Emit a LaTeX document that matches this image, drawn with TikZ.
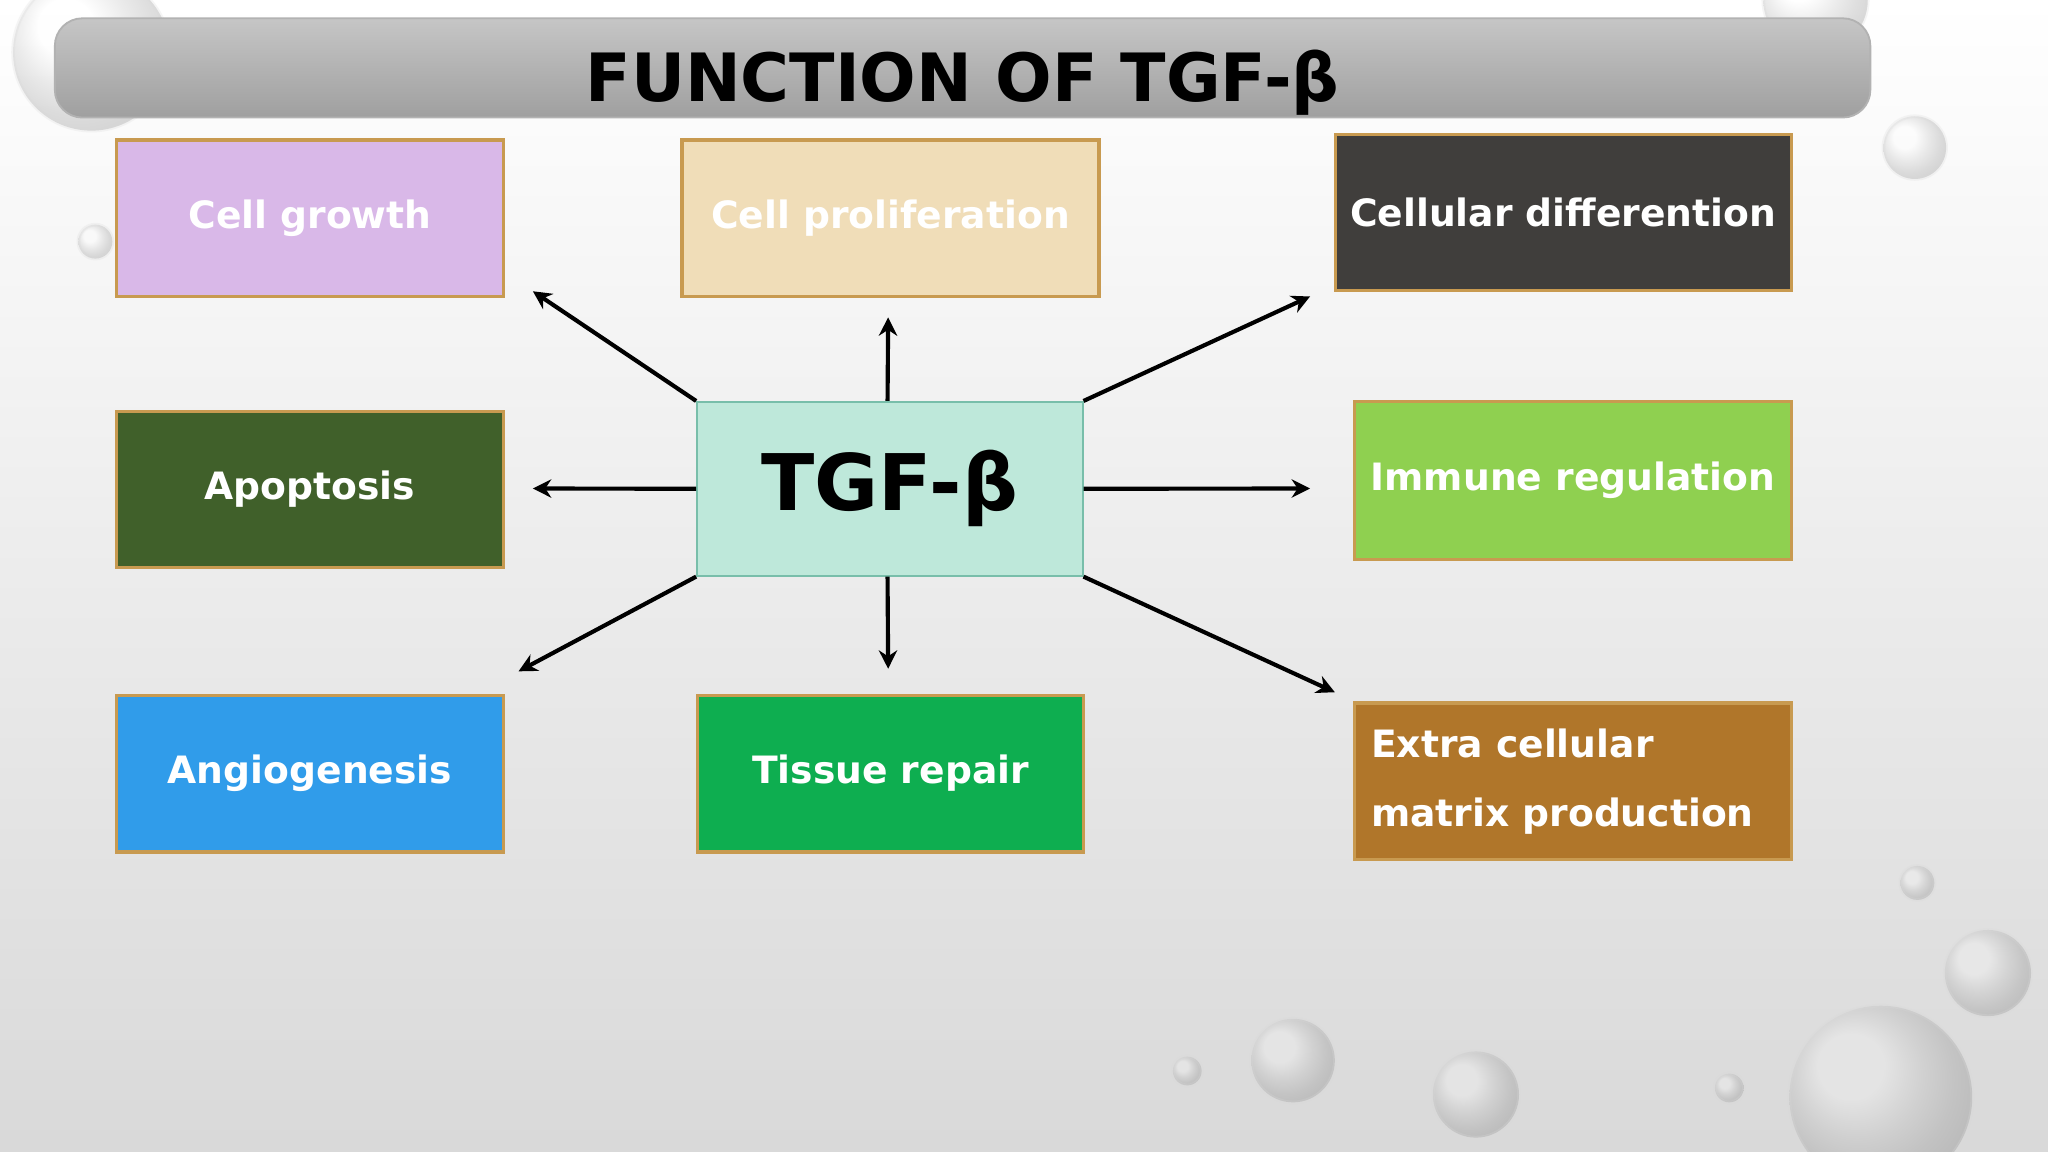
\documentclass[tikz,border=0pt]{standalone}
\usepackage{fontspec}
\setmainfont{DejaVu Sans}
\usetikzlibrary{arrows.meta}
\definecolor{bord}{HTML}{C89A50}
\tikzset{
 x=0.01cm,y=-0.01cm,
 fbox/.style={draw=bord,line width=0.7pt,anchor=north west,inner sep=0pt},
 lbl/.style={font=\bfseries\fontsize{8.2}{10}\selectfont,text=white},
 arr/.style={-{Stealth[length=4pt,width=4pt]},line width=0.9pt,black},
 bub/.style={draw=gray!30,line width=0.8pt,ball color=white,opacity=0.25}
}
\begin{document}
\begin{tikzpicture}
\useasboundingbox (0,0) rectangle (1568,882);
\shade[top color=white,bottom color=gray!30] (0,0) rectangle (1568,882);
% bubbles
\foreach \x/\y/\r in {70/40/60,1466/113/24,73/185/13,1468/676/13,1522/745/33,990/812/32,1130/838/33,909/820/11,1324/833/11,1440/840/70,1390/0/40}
 \shade[bub] (\x,\y) circle (\r);
% title
\shade[top color=gray!45,bottom color=gray!75,rounded corners=6pt,draw=gray!60] (42,14) rectangle (1432,90);
\node[font=\bfseries\fontsize{14.5}{16}\selectfont] (title) at (737,63) {FUNCTION OF TGF-β};
% boxes
\node[fbox,fill={rgb,255:red,217;green,184;blue,232},minimum width=2.96cm,minimum height=1.2cm] (cg) at (88,106) {};
\node[lbl] at (cg.center) {Cell growth};
\node[fbox,fill={rgb,255:red,240;green,221;blue,184},minimum width=3.19cm,minimum height=1.2cm] (cp) at (521,106) {};
\node[lbl] at (cp.center) {Cell proliferation};
\node[fbox,fill={rgb,255:red,64;green,62;blue,60},minimum width=3.49cm,minimum height=1.19cm] (cd) at (1021,102) {};
\node[lbl] at (cd.center) {Cellular differention};
\node[fbox,fill={rgb,255:red,64;green,96;blue,42},minimum width=2.96cm,minimum height=1.19cm] (ap) at (88,314) {};
\node[lbl] at (ap.center) {Apoptosis};
\node[fbox,fill={rgb,255:red,143;green,208;blue,80},minimum width=3.34cm,minimum height=1.21cm] (ir) at (1036,306) {};
\node[lbl] at (ir.center) {Immune regulation};
\node[fbox,fill={rgb,255:red,48;green,156;blue,234},minimum width=2.96cm,minimum height=1.2cm] (an) at (88,531) {};
\node[lbl] at (an.center) {Angiogenesis};
\node[fbox,fill={rgb,255:red,14;green,174;blue,80},minimum width=2.95cm,minimum height=1.2cm] (tr) at (533,531) {};
\node[lbl] at (tr.center) {Tissue repair};
\node[fbox,fill={rgb,255:red,176;green,118;blue,42},minimum width=3.34cm,minimum height=1.2cm] (ec) at (1036,537) {};
\node[lbl,font=\bfseries\fontsize{8.2}{15}\selectfont,align=left,anchor=west,inner sep=0pt] at ([xshift=0.13cm]ec.west) {Extra cellular\\matrix production};
% center
\node[draw={rgb,255:red,120;green,190;blue,170},fill={rgb,255:red,190;green,232;blue,218},anchor=north west,minimum width=2.95cm,minimum height=1.33cm,inner sep=0pt,font=\bfseries\fontsize{17}{20}\selectfont] (tgf) at (533,307) {TGF-β};
% arrow targets
\coordinate (e1) at (408,223); \coordinate (e2) at (680,243); \coordinate (e3) at (1003,227);
\coordinate (e4) at (408,374); \coordinate (e5) at (1003,374);
\coordinate (e6) at (397,514); \coordinate (e7) at (680,512); \coordinate (e8) at (1022,530);
\draw[arr] (tgf.north west) -- (e1);
\draw[arr] ([xshift=-0.5pt]tgf.north) -- (e2);
\draw[arr] (tgf.north east) -- (e3);
\draw[arr] (tgf.west) -- (e4);
\draw[arr] (tgf.east) -- (e5);
\draw[arr] (tgf.south west) -- (e6);
\draw[arr] ([xshift=-0.5pt]tgf.south) -- (e7);
\draw[arr] (tgf.south east) -- (e8);
\end{tikzpicture}
\end{document}
